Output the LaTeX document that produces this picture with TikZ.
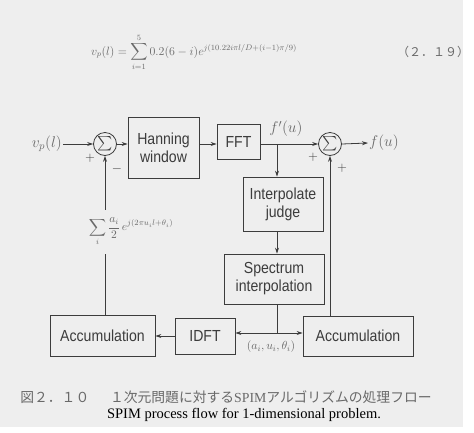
\RequirePackage{fix-cm}
\documentclass[tikz,border=0pt]{standalone}
\usepackage{fontspec}
\usepackage{amsmath}
\usepackage{tikz}
\usetikzlibrary{arrows.meta}
\setmainfont{Liberation Serif}
\newfontfamily\boxfont[FakeStretch=0.88]{Liberation Sans}
\newfontfamily\jpfont{Noto Sans CJK JP}
\definecolor{paper}{RGB}{238,238,238}
\definecolor{ink}{RGB}{60,60,60}
\definecolor{mathink}{RGB}{105,105,105}

\begin{document}
\begin{tikzpicture}[
            x=1pt, y=-1pt,
            block node/.style={draw=ink, line width=0.8pt, text=ink, font=\boxfont\fontsize{16}{18}\selectfont, align=center, inner sep=0pt},
            sum node/.style={circle, draw=ink, line width=0.8pt, text=ink, font=\fontsize{14}{14}\selectfont, minimum size=23pt, inner sep=0pt},
            math label/.style={text=mathink, inner sep=1pt, font=\fontsize{15.5}{17}\selectfont},
            sign node/.style={text=ink, font=\fontsize{13}{13}\selectfont, inner sep=0pt},
            link/.style={draw=ink, line width=0.8pt},
            flow/.style={link, -{Stealth[length=6pt,width=4pt]}},
            ]

            % page
            \useasboundingbox (0,0) rectangle (474,432);
            \fill[white] (0,0) rectangle (474,432);
            \fill[paper] (0,0) rectangle (463,427);

            % equation
            \node[math label, font=\fontsize{12}{14}\selectfont] (eq) at (194,52) {$\displaystyle v_p(l)=\sum_{i=1}^{5}0.2(6-i)e^{j(10.22i\pi l/D+(i-1)\pi/9)}$};
            \node[math label, font=\jpfont\fontsize{12}{14}\selectfont] (eqno) at (433,52) {（２．１９）};

            % blocks
            \node[block node, minimum width=71pt, minimum height=61pt] (hann) at (163.5,147.5) {Hanning\\window};
            \node[block node, minimum width=43pt, minimum height=35pt] (fft) at (238.5,142) {FFT};
            \node[block node, minimum width=80pt, minimum height=54pt] (judge) at (283,204) {Interpolate\\judge};
            \node[block node, minimum width=100pt, minimum height=50pt] (spec) at (274,279) {Spectrum\\interpolation};
            \node[block node, minimum width=105pt, minimum height=41pt] (accL) at (102.5,336) {Accumulation};
            \node[block node, minimum width=60pt, minimum height=36pt] (idft) at (205,336) {IDFT};
            \node[block node, minimum width=110pt, minimum height=40pt] (accR) at (358,336) {Accumulation};

            \node[sum node] (sum1) at (105,144) {$\sum$};
            \node[sum node] (sum2) at (330,144) {$\sum$};

            % labels
            \node[math label, anchor=east] (vin) at (63,144) {$v_p(l)$};
            \node[math label] (fprime) at (286,129) {$f'(u)$};
            \node[math label, anchor=west] (fout) at (368,143) {$f(u)$};
            \node[math label, font=\fontsize{11.5}{13}\selectfont, inner ysep=8pt] (fbk) at (131,232) {$\displaystyle\sum_i \frac{a_i}{2}\, e^{j(2\pi u_i l+\theta_i)}$};
            \node[math label, font=\fontsize{11.7}{13}\selectfont] (param) at (271,347) {$(a_i,u_i,\theta_i)$};

            \node[sign node] (p1) at (90,158) {$+$};
            \node[sign node] (m1) at (117,169) {$-$};
            \node[sign node] (p2) at (313,157) {$+$};
            \node[sign node] (p3) at (342,168) {$+$};

            % connectors
            \coordinate (tap) at (277,144);
            \coordinate (split) at (277,333);
            \draw[flow] (vin.east) -- (sum1.west);
            \draw[flow] (sum1.east) -- (sum1.east -| hann.west);
            \draw[flow] (hann.east |- sum1) -- (fft.west |- sum1);
            \draw[link] (fft.east |- sum1) -- (tap);
            \draw[flow] (tap) -- (sum2.west);
            \draw[flow] (sum2.east) -- (fout.west);
            \draw[flow] (tap) -- (tap |- judge.north);
            \draw[flow] (tap |- judge.south) -- (tap |- spec.north);
            \draw[link] (tap |- spec.south) -- (split);
            \draw[flow] (split) -- (split -| idft.east);
            \draw[flow] (split) -- (split -| accR.west);
            \draw[flow] (idft.west) -- (accL.east);
            \draw[flow] (accR.north -| sum2) -- (sum2.south);
            \draw[link] (accL.north -| sum1) -- (fbk.south -| sum1);
            \draw[flow] (fbk.north -| sum1) -- (sum1.south);

            % caption
            \node[text=mathink, font=\jpfont\fontsize{13.8}{16}\selectfont] (capjp) at (226,397) {図２．１０\hspace{1.5em}１次元問題に対する{\rmfamily SPIM}アルゴリズムの処理フロー};
            \node[text=black, font=\fontsize{14.5}{16}\selectfont] (capen) at (244,415) {SPIM process flow for 1-dimensional problem.};
        \end{tikzpicture}
\end{document}
